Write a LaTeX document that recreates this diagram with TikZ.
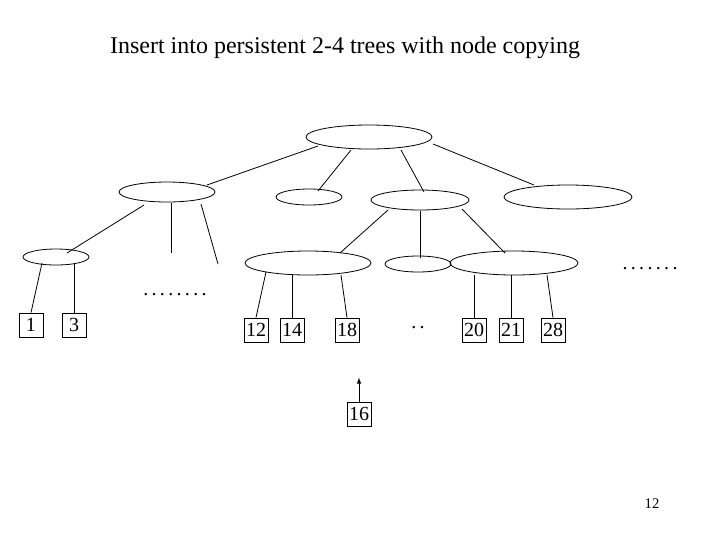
\documentclass[tikz,border=0pt]{standalone}
\usepackage{fontspec}
\setmainfont{Liberation Serif}
\usetikzlibrary{shapes.geometric}
\begin{document}
\begin{tikzpicture}[x=0.75pt,y=-0.75pt,line width=0.6pt,
  el/.style={draw,ellipse,inner sep=0pt},
  leaf/.style={draw,minimum width=18pt,minimum height=18pt,inner sep=0pt,font=\fontsize{15}{15}\selectfont},
  dots/.style={font=\fontsize{15}{15}\selectfont}]
\useasboundingbox (0,0) rectangle (720,540);
\node at (345,48) {\fontsize{18}{20}\selectfont Insert into persistent 2-4 trees with node copying};
\node[el,minimum width=94.5pt,minimum height=18pt] (root) at (369,137) {};
\node[el,minimum width=72pt,minimum height=15pt] (a) at (167,192) {};
\node[el,minimum width=49.5pt,minimum height=12pt] (b) at (309,197) {};
\node[el,minimum width=73.5pt,minimum height=15pt] (c) at (420,200) {};
\node[el,minimum width=96pt,minimum height=18pt] (d) at (568,197) {};
\node[el,minimum width=49.5pt,minimum height=12pt] (e) at (56,257) {};
\node[el,minimum width=94.5pt,minimum height=18pt] (f) at (308,263) {};
\node[el,minimum width=49.5pt,minimum height=12pt] (g) at (418,264) {};
\node[el,minimum width=96pt,minimum height=18pt] (h) at (514,263) {};
\node[leaf] (n1) at (31,325) {1};
\node[leaf] (n3) at (74,325) {3};
\node[leaf] (n12) at (256,330) {12};
\node[leaf] (n14) at (292,330) {14};
\node[leaf] (n18) at (347,330) {18};
\node[leaf] (n20) at (474,330) {20};
\node[leaf] (n21) at (511,330) {21};
\node[leaf] (n28) at (553,330) {28};
\node[leaf] (n16) at (359,414) {16};
\node[dots] (d1) at (175,295) {.\,.\,.\,.\,.\,.\,.\,.};
\node[dots] (d2) at (650,269) {.\,.\,.\,.\,.\,.\,.};
\node[dots] (d3) at (418,328) {.\,.};
\node at (652,504) {\fontsize{11}{12}\selectfont 12};
\coordinate (s1) at (171,253);
\coordinate (s2) at (218,264);
\draw (318,146) -- (207,185);
\draw (351,150) -- (318,191);
\draw (401,150) -- (424,192);
\draw (433,144) -- (534,185);
\draw (144,205) -- (67,253);
\draw (171,203) -- (s1);
\draw (201,204) -- (s2);
\draw (388,210) -- (340,253);
\draw (420,211) -- (420,258);
\draw (462,209) -- (505,253);
\draw (42,263) -- (n1.north);
\draw (74,263) -- (n3.north);
\draw (266,272) -- (n12.north);
\draw (292,275) -- (n14.north);
\draw (341,275) -- (n18.north);
\draw (474,275) -- (n20.north);
\draw (511,275) -- (n21.north);
\draw (547,275) -- (n28.north);
\draw[-latex] (n16.north) -- ++(0,-24);
\end{tikzpicture}
\end{document}
